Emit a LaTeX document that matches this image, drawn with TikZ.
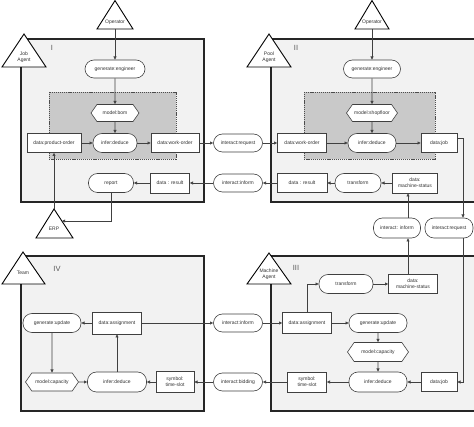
\documentclass[tikz,border=0pt]{standalone}
\usepackage{fontspec}
\setmainfont{Liberation Sans}
\usetikzlibrary{arrows.meta,shapes.symbols,calc}
\begin{document}
\begin{tikzpicture}[x=1pt,y=-1pt,
 every node/.style={font=\fontsize{5}{6.2}\selectfont, text=black!80, inner sep=0pt},
 panel/.style={draw=black!85, line width=1.1pt, fill=black!5},
 zone/.style={draw=black!70, dash pattern=on 1.2pt off 0.9pt, line width=0.6pt, fill=black!21},
 box/.style={draw=black!75, line width=0.6pt, fill=white, minimum height=19pt, align=center},
 pill/.style={box, rounded corners=9pt},
 hexa/.style={signal, signal to=west and east, signal pointer angle=110, draw=black!75, line width=0.6pt, fill=white, minimum height=17pt},
 tri/.style={draw=black, line width=0.9pt, fill=white, line join=miter},
 trilbl/.style={align=center, font=\fontsize{5}{6.5}\selectfont},
 arr/.style={draw=black!75, line width=0.6pt, -{Triangle[length=3.2pt,width=3pt]}},
 roman/.style={font=\fontsize{7.5}{8}\selectfont, text=black!65},
]
\useasboundingbox (0,0) rectangle (474,427);

% panels
\draw[panel] (21,39) rectangle (204,202);
\draw[panel] (271,39) rectangle (478,202);
\draw[panel] (271,256) rectangle (478,411);
\draw[panel] (21,256) rectangle (204,411);
\draw[zone] (49,92) rectangle (176,159);
\draw[zone] (304,92) rectangle (435,159);

\node[roman] (r1) at (52,48) {I};
\node[roman] (r2) at (296,48) {II};
\node[roman] (r3) at (296,268) {III};
\node[roman] (r4) at (57,269) {IV};

% triangles
\draw[tri] (97,29) -- (115,0.6) -- (133,29) -- cycle;
\node[trilbl] (op1) at (115,22) {Operator};
\coordinate (op1b) at (115,29);
\draw[tri] (355,29) -- (372,0.6) -- (389,29) -- cycle;
\node[trilbl] (op2) at (372,22) {Operator};
\coordinate (op2b) at (372,29);
\draw[tri] (2,67) -- (24,34) -- (46,67) -- cycle;
\node[trilbl] (ja) at (24,57) {Job\\Agent};
\draw[tri] (247,67) -- (269,34) -- (291,67) -- cycle;
\node[trilbl] (pa) at (269,57) {Pool\\Agent};
\draw[tri] (2,284) -- (23,252) -- (45,284) -- cycle;
\node[trilbl] (tm) at (23,273) {Team};
\draw[tri] (247,284) -- (269,253) -- (291,284) -- cycle;
\node[trilbl] (ma) at (269,274) {Machine\\Agent};
\draw[tri] (36,238) -- (54,209) -- (73,238) -- cycle;
\node[trilbl] (erp) at (54,229) {ERP};
\coordinate (erpT) at (54,209);
\coordinate (erpR) at (62,221);
\coordinate (vx) at (408,0);

% panel I
\node[pill, minimum width=60pt, minimum height=18pt] (ge1) at (115,69) {generate:engineer};
\node[hexa, minimum width=48pt] (bom) at (115,113) {model:bom};
\node[box, minimum width=54pt] (dpo) at (54,143) {data:product-order};
\node[pill, minimum width=44pt] (inf1) at (115,143) {infer:deduce};
\node[box, minimum width=48pt] (dwo1) at (175,143) {data:work-order};
\node[pill, minimum width=45pt] (rep) at (111,183) {report};
\node[box, minimum width=39pt, minimum height=20pt] (dr1) at (170,183) {data : result};

% middle
\node[pill, minimum width=49pt, minimum height=18pt] (ireq1) at (238,143) {interact:request};
\node[pill, minimum width=49pt, minimum height=18pt] (iinf1) at (238,183) {interact:inform};
\node[pill, minimum width=49pt, minimum height=18pt] (iinf3) at (238,323) {interact:inform};
\node[pill, minimum width=49pt, minimum height=18pt] (ibid) at (238,382) {interact:bidding};

% panel II
\node[pill, minimum width=57pt, minimum height=18pt] (ge2) at (372,69) {generate:engineer};
\node[hexa, minimum width=51pt] (shop) at (372,113) {model:shopfloor};
\node[box, minimum width=49pt] (dwo2) at (302,143) {data:work-order};
\node[pill, minimum width=48pt] (inf2) at (372,143) {infer:deduce};
\node[box, minimum width=36pt] (djob2) at (439,143) {data:job};
\node[box, minimum width=50pt] (dr2) at (302,183) {data : result};
\node[pill, minimum width=46pt] (tr2) at (358,183) {transform};
\node[box, minimum width=45pt, minimum height=20pt] (ms2) at (415,183) {data:\\machine-status};
\node[pill, minimum width=47pt, minimum height=20pt] (iinf2) at (397,228) {interact: inform};
\node[pill, minimum width=48pt, minimum height=20pt] (ireq2) at (449,228) {interact:request};

% panel III
\node[pill, minimum width=54pt] (tr3) at (346,284) {transform};
\node[box, minimum width=49pt] (ms3) at (413,284) {data:\\machine-status};
\node[box, minimum width=49pt, minimum height=21pt] (da3) at (307,323) {data:assignment};
\node[pill, minimum width=58pt] (gu3) at (378,323) {generate:update};
\node[hexa, minimum width=61pt, minimum height=19pt] (mc3) at (378,352) {model:capacity};
\node[pill, minimum width=58pt, minimum height=20pt] (inf3) at (378,382) {infer:deduce};
\node[box, minimum width=36pt] (dj3) at (439,382) {data:job};
\node[box, minimum width=39pt, minimum height=20pt] (sym3) at (307,382) {symbol:\\time-slot};

% panel IV
\node[pill, minimum width=58pt] (gu4) at (52,323) {generate:update};
\node[box, minimum width=49pt, minimum height=22pt] (da4) at (117,323) {data:assignment};
\node[hexa, minimum width=53pt, minimum height=18pt] (mc4) at (52,382) {model:capacity};
\node[pill, minimum width=59pt, minimum height=20pt] (inf4) at (117,382) {infer:deduce};
\node[box, minimum width=38pt, minimum height=21pt] (sym4) at (175,382) {symbol:\\time-slot};

% connectors panel I
\draw[arr] (op1b) -- (ge1);
\draw[arr] (ge1) -- (bom);
\draw[arr] (bom) -- (inf1);
\draw[arr] (dpo) -- (inf1);
\draw[arr] (inf1) -- (dwo1);
\draw[arr] (dwo1) -- (ireq1);
\draw[arr] (ireq1) -- (dwo2);
\draw[arr] (iinf1) -- (dr1);
\draw[arr] (dr1) -- (rep);
\draw[arr] (rep.south) |- (erpR);
\draw[arr] (erpT) -- (dpo.south);

% panel II
\draw[arr] (op2b) -- (ge2);
\draw[arr] (ge2) -- (shop);
\draw[arr] (shop) -- (inf2);
\draw[arr] (dwo2) -- (inf2);
\draw[arr] (inf2) -- (djob2);
\draw[arr] ([yshift=5pt]djob2.east) -| ([xshift=14pt]ireq2.north);
\draw[arr] ([xshift=14pt]ireq2.south) |- (dj3.east);
\draw[arr] (ms2) -- (tr2);
\draw[arr] (tr2) -- (dr2);
\draw[arr] (dr2) -- (iinf1);
\draw[arr] (ms3.north -| vx) -- (iinf2.south -| vx);
\draw[arr] (iinf2.north -| vx) -- (ms2.south -| vx);

% panel III
\draw[arr] (da3.north) |- (tr3.west);
\draw[arr] (tr3) -- (ms3);
\draw[arr] (da3) -- (gu3);
\draw[arr] (gu3) -- (mc3);
\draw[arr] (mc3) -- (inf3);
\draw[arr] (dj3) -- (inf3);
\draw[arr] (inf3) -- (sym3);
\draw[arr] (sym3) -- (ibid);
\draw[arr] (ibid) -- (sym4);

% panel IV
\draw[arr] (da4) -- (iinf3);
\draw[arr] (iinf3) -- (da3);
\draw[arr] (da4) -- (gu4);
\draw[arr] (gu4) -- (mc4);
\draw[arr] (mc4) -- (inf4);
\draw[arr] (inf4) -- (da4);
\draw[arr] (sym4) -- (inf4);
\end{tikzpicture}
\end{document}
